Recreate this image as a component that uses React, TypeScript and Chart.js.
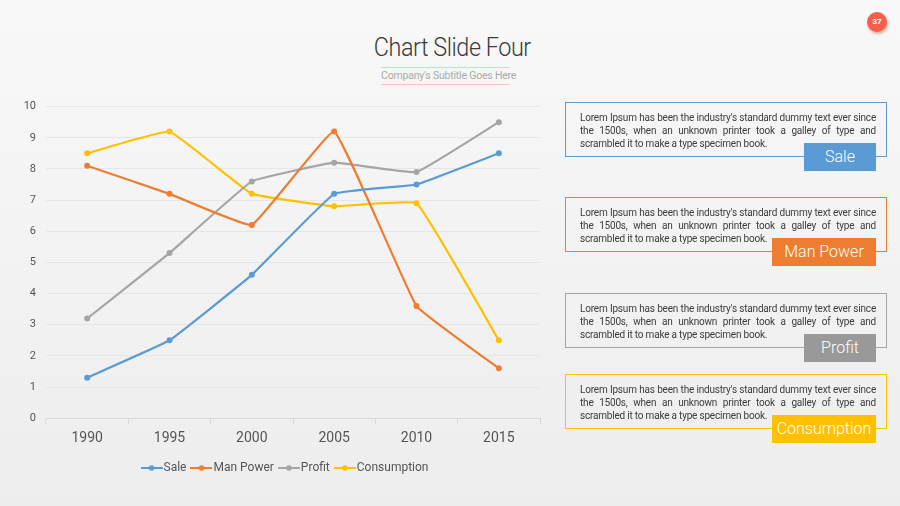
import React, { useEffect, useRef } from "react";
import { Chart, registerables } from "chart.js";

Chart.register(...registerables);

const years = ["1990", "1995", "2000", "2005", "2010", "2015"];
const sale = [1.3, 2.5, 4.6, 7.2, 7.5, 8.5];
const manPower = [8.1, 7.2, 6.2, 9.2, 3.6, 1.6];
const profit = [3.2, 5.3, 7.6, 8.2, 7.9, 9.5];
const consumption = [8.5, 9.2, 7.2, 6.8, 6.9, 2.5];
const seriesNames = ["Sale", "Man Power", "Profit", "Consumption"];
const seriesColors = ["#5b9bd5", "#ed7d31", "#a5a5a5", "#ffc000"];
const labelColors = ["#5b9bd5", "#ed7d31", "#999999", "#ffc000"];

const lorem =
  "Lorem Ipsum has been the industry's standard dummy text ever since the 1500s, when an unknown printer took a galley of type and scrambled it to make a type specimen book.";

const FONT = "Roboto, 'Noto Sans', sans-serif";

function legendIcon(color: string) {
  const out = document.createElement("canvas");
  out.width = 22;
  out.height = 8;
  const ctx = out.getContext("2d")!;
  ctx.strokeStyle = color;
  ctx.fillStyle = color;
  ctx.lineWidth = 2;
  ctx.beginPath();
  ctx.moveTo(0, 4);
  ctx.lineTo(22, 4);
  ctx.stroke();
  ctx.beginPath();
  ctx.arc(11, 4, 2.8, 0, Math.PI * 2);
  ctx.fill();
  return out;
}

const shiftLegend = {
  id: "shiftLegend",
  afterLayout(chart: any) {
    const lg = chart.legend;
    if (lg) {
      lg.left += 17;
      lg.right += 17;
    }
  },
};

function LineChart() {
  const ref = useRef<HTMLCanvasElement>(null);
  useEffect(() => {
    if (!ref.current) return;
    const values = [sale, manPower, profit, consumption];
    const icons = seriesColors.map((c) => legendIcon(c));
    const chart = new Chart(ref.current, {
      type: "line",
      data: {
        labels: years,
        datasets: seriesNames.map((name, i) => ({
          label: name,
          data: values[i],
          borderColor: seriesColors[i],
          backgroundColor: seriesColors[i],
          borderWidth: 2.2,
          pointRadius: 3,
          pointBorderWidth: 0,
          pointStyle: "circle",
          tension: 0.08,
        })),
      },
      plugins: [shiftLegend],
      options: {
        animation: false,
        responsive: true,
        maintainAspectRatio: false,
        layout: { padding: { top: 0, left: 0, right: 32, bottom: 0 } },
        plugins: {
          legend: {
            position: "bottom",
            labels: {
              usePointStyle: true,
              padding: 9,
              color: "#555",
              font: { family: FONT, size: 12 },
              generateLabels: (c: any) =>
                c.data.datasets.map((d: any, i: number) => ({
                  text: d.label,
                  fillStyle: d.borderColor,
                  strokeStyle: d.borderColor,
                  lineWidth: 0,
                  pointStyle: icons[i],
                  fontColor: "#555",
                  datasetIndex: i,
                  hidden: false,
                })),
            },
          },
          tooltip: { enabled: false },
        },
        scales: {
          x: {
            offset: true,
            grid: {
              display: true,
              offset: true,
              drawOnChartArea: false,
              drawTicks: true,
              tickLength: 6,
              color: "#d9d9d9",
            },
            border: { color: "#d9d9d9" },
            ticks: { color: "#555", font: { family: FONT, size: 14 }, padding: 6 },
          },
          y: {
            min: 0,
            max: 10,
            afterFit: (s: any) => {
              s.width = 46;
            },
            grid: { color: "#e6e6e6", drawTicks: false },
            border: { display: false },
            ticks: { stepSize: 1, color: "#555", font: { family: FONT, size: 11 }, padding: 10 },
          },
        },
      },
    });
    return () => chart.destroy();
  }, []);
  return (
    <div style={{ position: "absolute", left: 0, top: 90, width: 572, height: 394 }}>
      <canvas ref={ref} />
    </div>
  );
}

const boxes = [
  { top: 102, labelW: 72 },
  { top: 197, labelW: 104 },
  { top: 293, labelW: 72 },
  { top: 374, labelW: 104 },
];

export default function App() {
  return (
    <div
      style={{
        position: "fixed",
        left: 0,
        top: 0,
        width: 900,
        height: 506,
        overflow: "hidden",
        background: "linear-gradient(#f8f8f8, #ededed)",
        fontFamily: FONT,
      }}
    >
      <div
        style={{
          position: "absolute",
          left: 0,
          width: 904,
          top: 32,
          textAlign: "center",
          fontSize: 26,
          fontWeight: 300,
          color: "#3a3a3a",
          letterSpacing: -0.5,
        }}
      >
        <span style={{ display: "inline-block", transform: "scaleX(0.9)" }}>Chart Slide Four</span>
      </div>
      <div
        style={{
          position: "absolute",
          left: 381,
          width: 128,
          top: 67,
          height: 16,
          borderTop: "1px solid #f5c6c6",
          borderBottom: "1px solid #f5c6c6",
          textAlign: "center",
          fontSize: 10.5,
          lineHeight: "16px",
          color: "#aaa",
          letterSpacing: -0.2,
          whiteSpace: "nowrap",
        }}
      >
        Company's Subtitle Goes Here
      </div>
      <div
        style={{
          position: "absolute",
          left: 867,
          top: 12,
          width: 20,
          height: 20,
          borderRadius: "50%",
          background: "#f45f4b",
          boxShadow: "1px 2px 3px rgba(180,80,40,0.45)",
          color: "#fff",
          fontSize: 8,
          fontWeight: 700,
          textAlign: "center",
          lineHeight: "20px",
        }}
      >
        37
      </div>
      <LineChart />
      {boxes.map((b, i) => (
        <React.Fragment key={i}>
          <div
            style={{
              position: "absolute",
              left: 565,
              top: b.top,
              width: 320,
              height: 53,
              border: `1px solid ${seriesColors[i]}`,
              boxSizing: "content-box",
            }}
          >
            <div
              style={{
                margin: "8px 10px 0 14px",
                fontSize: 10,
                lineHeight: "13px",
                color: "#3c3c3c",
                textAlign: "justify",
                letterSpacing: -0.2,
              }}
            >
              {lorem}
            </div>
          </div>
          <div
            style={{
              position: "absolute",
              left: 876 - b.labelW,
              top: b.top + 41,
              width: b.labelW,
              height: 28,
              background: labelColors[i],
              color: "#fff",
              fontSize: 16,
              fontWeight: 300,
              textAlign: "center",
              lineHeight: "28px",
            }}
          >
            {seriesNames[i]}
          </div>
        </React.Fragment>
      ))}
    </div>
  );
}
